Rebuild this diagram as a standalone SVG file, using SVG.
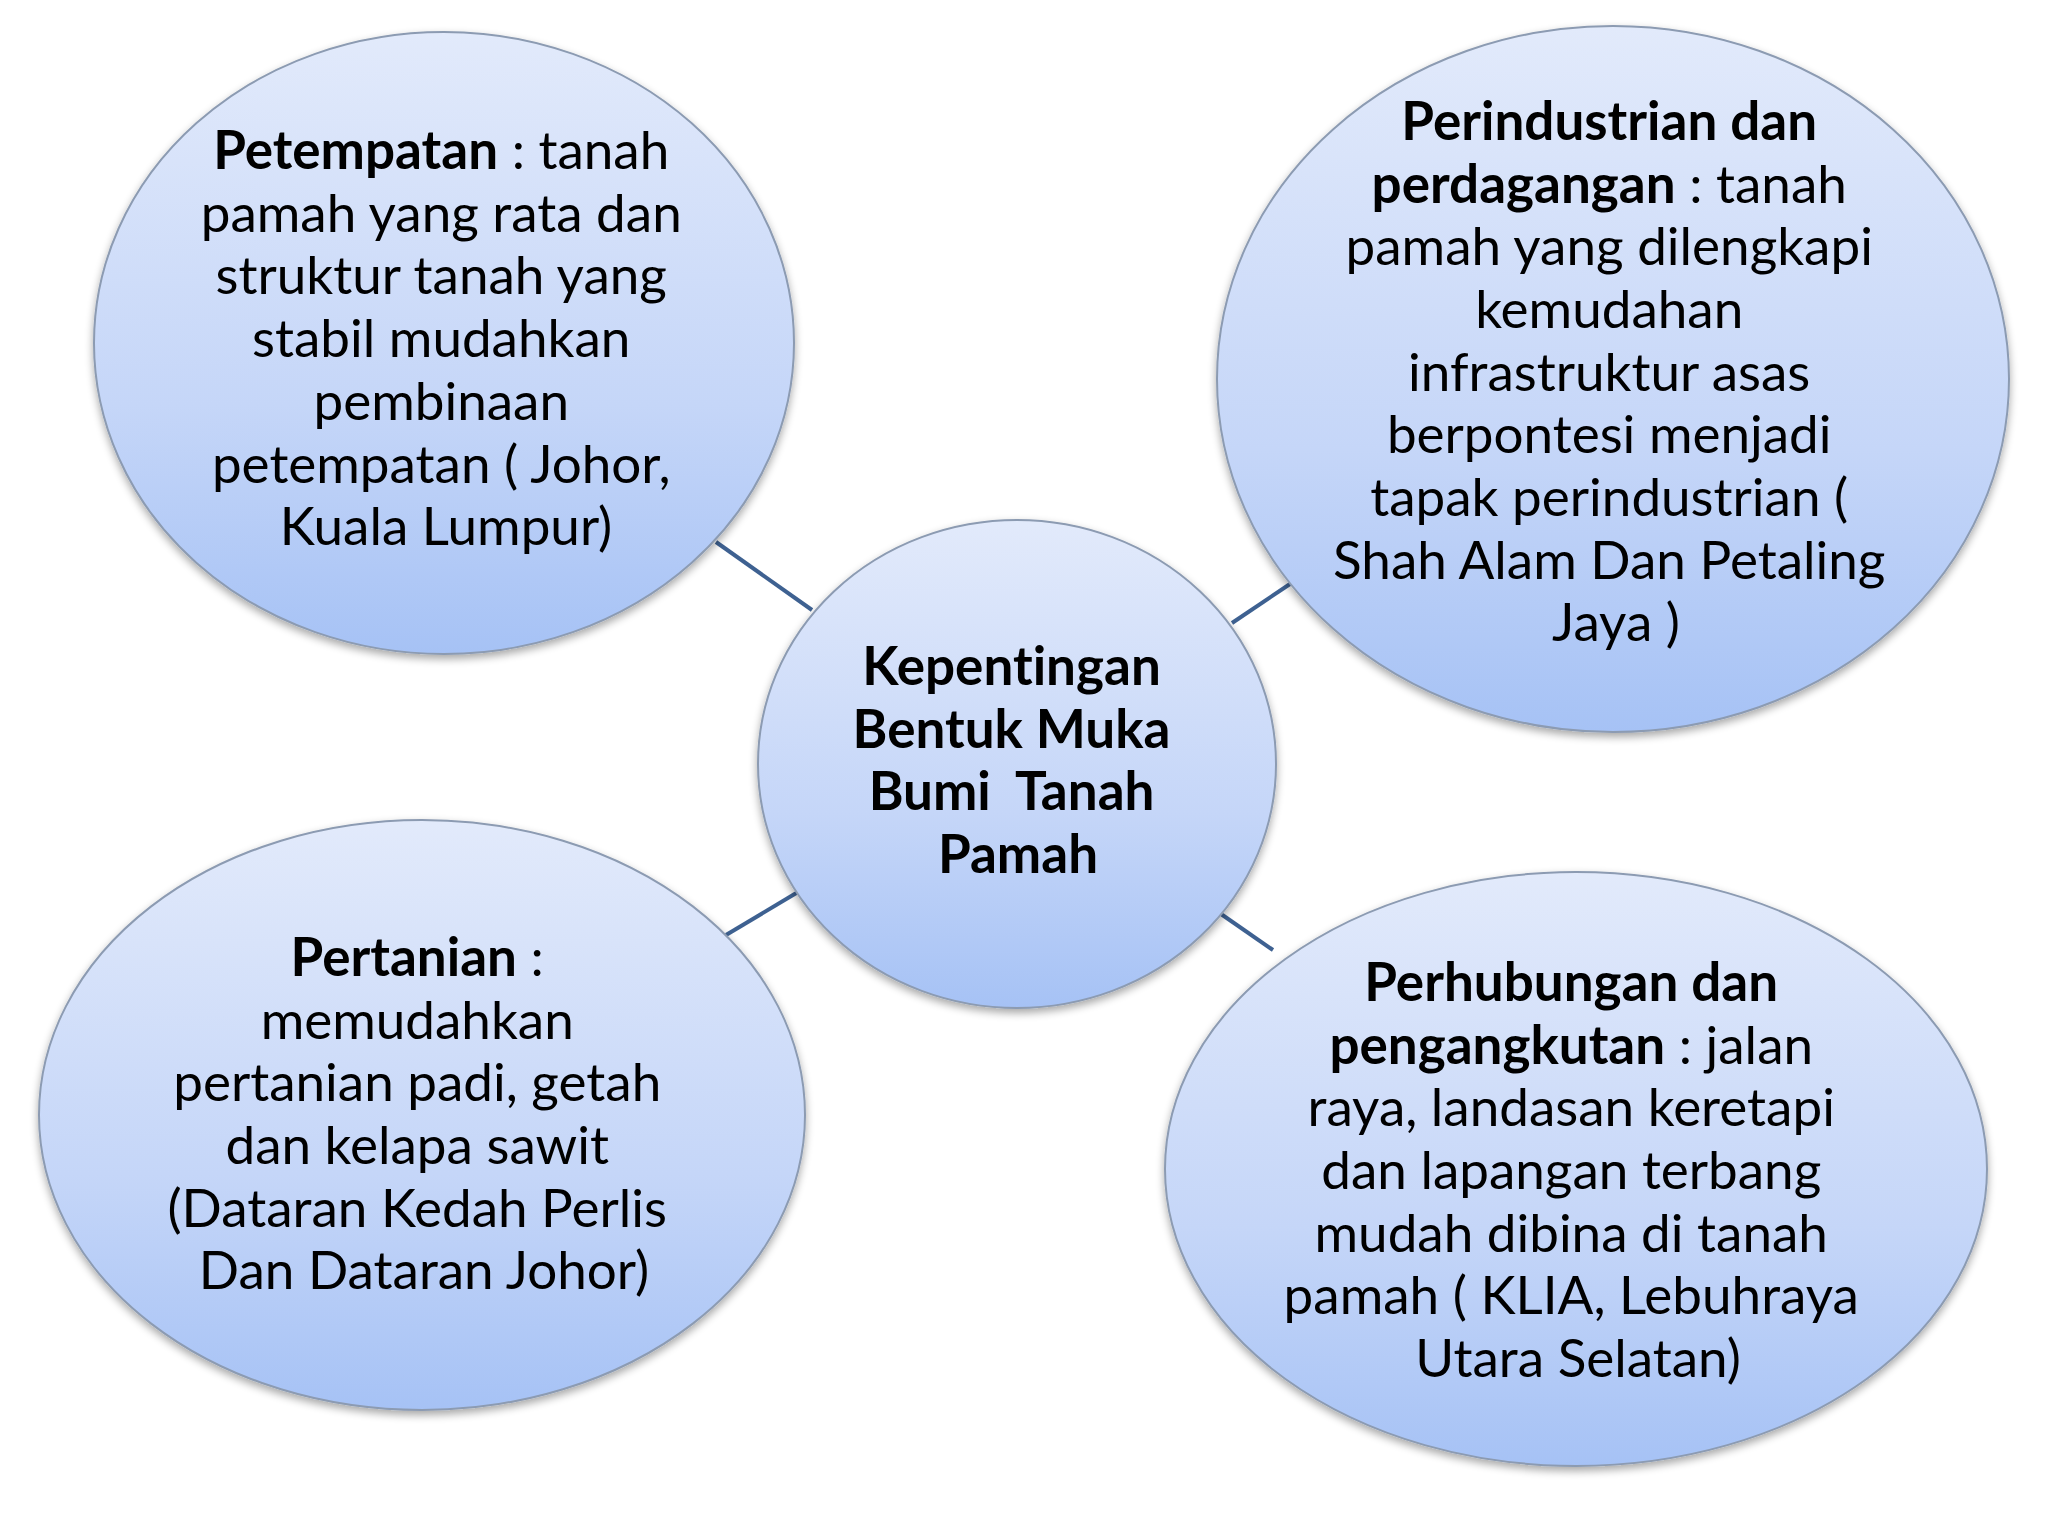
<svg xmlns="http://www.w3.org/2000/svg" width="2048" height="1536" viewBox="0 0 2048 1536">
<defs>
<linearGradient id="g" x1="0" y1="0" x2="0" y2="1">
<stop offset="0" stop-color="#e2eafb"/>
<stop offset="0.6" stop-color="#c5d6f8"/>
<stop offset="1" stop-color="#a6c2f5"/>
</linearGradient>
<filter id="sh" x="-10%" y="-10%" width="120%" height="125%">
<feGaussianBlur in="SourceAlpha" stdDeviation="4"/>
<feOffset dx="0" dy="4" result="b"/>
<feComponentTransfer><feFuncA type="linear" slope="0.35"/></feComponentTransfer>
<feMerge><feMergeNode/><feMergeNode in="SourceGraphic"/></feMerge>
</filter>
</defs>
<style>
.n{fill:url(#g);stroke:#8c9bb2;stroke-width:2;filter:url(#sh)}
.t{font-family:Lato,"Liberation Sans",sans-serif;font-size:53px;fill:#000;text-anchor:middle;font-variant-ligatures:none}
.b{font-weight:bold}
.c{stroke:#3e6191;stroke-width:4;fill:none}
</style>
<rect width="2048" height="1536" fill="#fff"/>
<g id="connectors">
<line class="c" x1="716" y1="542" x2="812" y2="610"/>
<line class="c" x1="1232" y1="623" x2="1293" y2="582"/>
<line class="c" x1="726" y1="935" x2="798" y2="892"/>
<line class="c" x1="1221" y1="914" x2="1273" y2="950"/>
</g>
<g id="petempatan">
<ellipse class="n" cx="444" cy="343" rx="350" ry="311"/>
<text class="t">
<tspan x="448" y="169"><tspan class="b">Petempatan</tspan> : tanah</tspan>
<tspan x="448" y="232">pamah yang rata dan</tspan>
<tspan x="448" y="294">struktur tanah yang</tspan>
<tspan x="448" y="357">stabil mudahkan</tspan>
<tspan x="448" y="420">pembinaan</tspan>
<tspan x="448" y="483">petempatan ( Johor,</tspan>
<tspan x="446" y="545">Kuala Lumpur)</tspan>
</text>
</g>
<g id="perindustrian">
<ellipse class="n" cx="1613" cy="379" rx="396" ry="353"/>
<text class="t">
<tspan x="1616" y="140" class="b">Perindustrian dan</tspan>
<tspan x="1616" y="203"><tspan class="b">perdagangan</tspan> : tanah</tspan>
<tspan x="1616" y="265">pamah yang dilengkapi</tspan>
<tspan x="1616" y="328">kemudahan</tspan>
<tspan x="1616" y="391">infrastruktur asas</tspan>
<tspan x="1616" y="453">berpontesi menjadi</tspan>
<tspan x="1616" y="516">tapak perindustrian (</tspan>
<tspan x="1616" y="579">Shah Alam Dan Petaling</tspan>
<tspan x="1616" y="641">Jaya )</tspan>
</text>
</g>
<g id="pusat">
<ellipse class="n" cx="1017" cy="764" rx="259" ry="244"/>
<text class="t b">
<tspan x="1018" y="685">Kepentingan</tspan>
<tspan x="1018" y="748">Bentuk Muka</tspan>
<tspan x="1018" y="810" xml:space="preserve">Bumi  Tanah</tspan>
<tspan x="1018" y="873">Pamah</tspan>
</text>
</g>
<g id="pertanian">
<ellipse class="n" cx="422" cy="1115" rx="383" ry="295"/>
<text class="t">
<tspan x="424" y="976"><tspan class="b">Pertanian</tspan> :</tspan>
<tspan x="424" y="1039">memudahkan</tspan>
<tspan x="424" y="1101">pertanian padi, getah</tspan>
<tspan x="424" y="1164">dan kelapa sawit</tspan>
<tspan x="424" y="1227">(Dataran Kedah Perlis</tspan>
<tspan x="424" y="1289">Dan Dataran Johor)</tspan>
</text>
</g>
<g id="perhubungan">
<ellipse class="n" cx="1576" cy="1169" rx="411" ry="297"/>
<text class="t">
<tspan x="1578" y="1001" class="b">Perhubungan dan</tspan>
<tspan x="1578" y="1064"><tspan class="b">pengangkutan</tspan> : jalan</tspan>
<tspan x="1578" y="1126">raya, landasan keretapi</tspan>
<tspan x="1578" y="1189">dan lapangan terbang</tspan>
<tspan x="1578" y="1252">mudah dibina di tanah</tspan>
<tspan x="1578" y="1314">pamah ( KLIA, Lebuhraya</tspan>
<tspan x="1578" y="1377">Utara Selatan)</tspan>
</text>
</g>
</svg>
